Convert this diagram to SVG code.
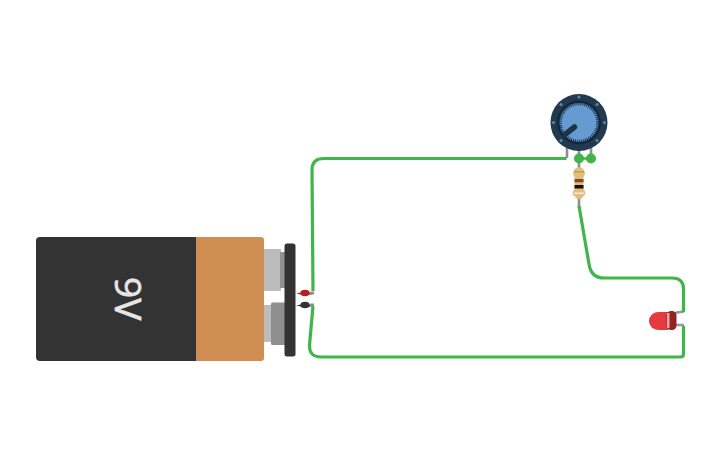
<svg xmlns="http://www.w3.org/2000/svg" width="725" height="453" viewBox="0 0 725 453">
<style>
.wire{fill:none;stroke:#3fb54a;stroke-width:3.2;stroke-linejoin:round}
.lead{fill:none;stroke:#8f8f8f;stroke-width:2.6}
.pad{fill:#3fb54a}
</style>
<rect width="725" height="453" fill="#fff"/>
<g id="battery">
<rect x="264" y="249" width="17" height="42" fill="#bcbcbc"/>
<rect x="280" y="252" width="6" height="36" fill="#929292"/>
<rect x="264" y="305" width="9" height="37" fill="#bcbcbc"/>
<rect x="271" y="302.500" width="16" height="42.500" rx="1.500" fill="#8f8f8f"/>
<path d="M196 237H261a3 3 0 0 1 3 3V358a3 3 0 0 1-3 3H196Z" fill="#d08d54"/>
<path d="M196 237H40a4 4 0 0 0-4 4V357a4 4 0 0 0 4 4H196Z" fill="#333333"/>
<text transform="translate(115 277) rotate(90)" font-family="Open Sans, sans-serif" font-size="37" stroke="#e6e6e6" stroke-width="0.7" fill="#e6e6e6">9V</text>
<rect x="284.500" y="243.500" width="11" height="113" rx="2.500" fill="#333333"/>
<path d="M296 293.500L301 292.500L312 292.500V294.500L301 294.500Z" fill="#b31e1e"/>
<ellipse cx="305" cy="293" rx="4.500" ry="3.200" fill="#b31e1e"/>
<path d="M296 305.500L301 304.500L312 304.500V306.500L301 306.500Z" fill="#333333"/>
<ellipse cx="305" cy="305" rx="4.500" ry="3.200" fill="#333333"/>
<rect x="310" y="291.500" width="4" height="3" fill="#8f8f8f"/>
<rect x="310" y="303.500" width="4" height="3" fill="#8f8f8f"/>
</g>
<g id="potentiometer">
<path class="lead" d="M567 146V158M579 146V158M591 146V158"/>
<circle cx="579" cy="122.500" r="28.500" fill="#223a50"/>
<g fill="#5b89ae">
<circle cx="579" cy="97" r="1.500"/><circle cx="597" cy="104.500" r="1.500"/><circle cx="604.500" cy="122.500" r="1.500"/><circle cx="597" cy="140.500" r="1.500"/><circle cx="561" cy="140.500" r="1.500"/><circle cx="553.500" cy="122.500" r="1.500"/><circle cx="561" cy="104.500" r="1.500"/>
</g>
<circle cx="579" cy="122.500" r="22" fill="#14273a"/>
<circle cx="579" cy="122.500" r="19.500" fill="#659bd0"/>
<circle cx="579" cy="122.500" r="18.500" fill="none" stroke="#1a3045" stroke-width="2.500" stroke-dasharray="1 1"/>
<path d="M574.500 127L565 134.500" stroke="#1d3348" stroke-width="5.500" stroke-linecap="round"/>
</g>
<g id="resistor">
<path class="lead" d="M579 163V170M579 197V207"/>
<path d="M573 173Q573 170 576 168Q579 166.500 582 168Q585 170 585 173Q585 175 583.500 177V189Q585.500 191 585.500 194L581 199H577L572.500 194Q572.500 191 574.500 189V177Q573 175 573 173Z" fill="#e3be81"/>
<rect x="574" y="171" width="10" height="1.500" fill="#b8a53c"/>
<rect x="574.500" y="179" width="9" height="3.300" fill="#8a4a1e"/>
<rect x="574.500" y="185" width="9" height="3.500" fill="#111111"/>
<rect x="574" y="192.500" width="10" height="1.500" fill="#f6e8d0"/>
</g>
<g id="led">
<path d="M668 317L677 312.500L684 311.500M668 325H684" fill="none" stroke="#999999" stroke-width="2.500"/>
<path d="M658 312H668V330H658a9 9 0 0 1 0-18Z" fill="#e53b3e"/>
<rect x="666.500" y="311" width="10" height="19" rx="4.500" fill="#8f2528"/>
<rect x="667" y="313" width="2.500" height="15" fill="#eaa6a6"/>
</g>
<g id="connectors">
<path class="wire" d="M313 291L312 170Q312 158.500 324 158.500H566.500"/>
<path class="wire" d="M313 306L309.500 345Q309 357 321 357H680.500Q683.500 357 683.500 354V326"/>
<path class="wire" d="M579 206L589 264Q591 278 604 278H672Q683.500 278 683.500 289V312"/>
<path d="M579 158.500H591" stroke="#3fb54a" stroke-width="2.500"/>
<circle class="pad" cx="579" cy="158.500" r="5"/>
<circle class="pad" cx="591" cy="158.500" r="5"/>
</g>
</svg>
